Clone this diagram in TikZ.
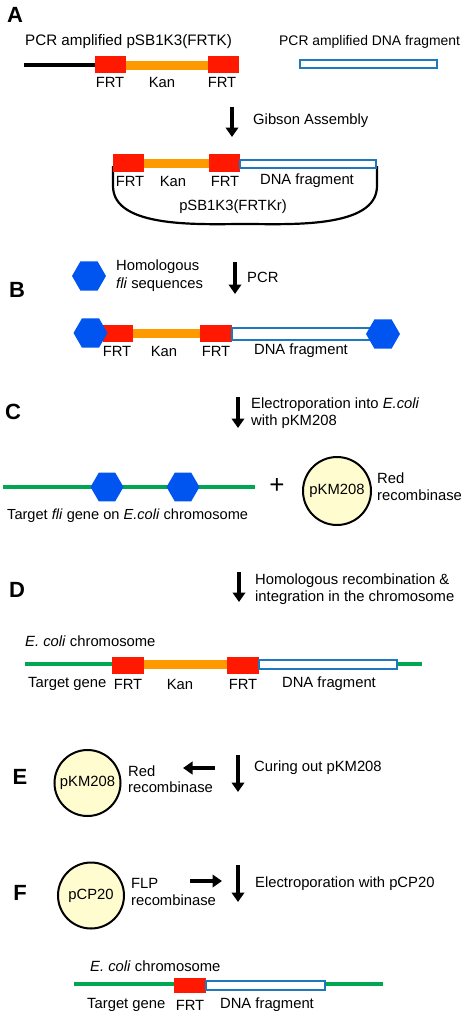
\documentclass[tikz,border=0pt]{standalone}
\usepackage{fontspec}
\setmainfont{Liberation Sans}
\usetikzlibrary{arrows.meta,shapes.geometric}
\definecolor{frtred}{RGB}{255,25,0}
\definecolor{kanorange}{RGB}{255,153,0}
\definecolor{dnablue}{RGB}{30,120,190}
\definecolor{hexblue}{RGB}{0,85,240}
\definecolor{chromgreen}{RGB}{0,166,81}
\definecolor{plasfill}{RGB}{255,253,208}
\tikzset{
  lbl/.style={font=\fontsize{14.8}{17}\selectfont, inner sep=0pt},
  panel/.style={font=\fontsize{22}{24}\selectfont\bfseries, inner sep=0pt},
  frtbox/.style={fill=frtred},
  kanbar/.style={fill=kanorange},
  dnabox/.style={draw=dnablue, line width=2pt, fill=white},
  chrom/.style={draw=chromgreen, line width=3.5pt},
  hexa/.style={regular polygon, regular polygon sides=6, fill=hexblue, draw=none, minimum size=34pt, inner sep=0pt},
  plasmid/.style={circle, draw=black, line width=2pt, fill=plasfill, minimum size=66pt, inner sep=0pt, font=\fontsize{14.8}{17}\selectfont},
  bigarrow/.style={line width=4.6pt, -{Triangle[width=12.5pt,length=9.5pt]}},
}
\begin{document}
\begin{tikzpicture}[x=1pt,y=-1pt]
\useasboundingbox (0,0) rectangle (474,1018);
% ---------- A ----------
\node[panel] (lA) at (15,15) {A};
\node[lbl, anchor=west, font=\fontsize{15.2}{17}\selectfont] (tA1) at (25,42) {PCR amplified pSB1K3(FRTK)};
\node[lbl, anchor=west, font=\fontsize{13.9}{16}\selectfont] (tA2) at (279,42) {PCR amplified DNA fragment};
\draw[line width=3.2pt] (24,65) -- (95,65);
\fill[kanbar] (126,60.5) rectangle (208,69.5);
\fill[frtbox] (95,56) rectangle (126,73);
\fill[frtbox] (208,56) rectangle (239,73);
\draw[dnabox] (300,60) rectangle (437,68);
\node[lbl] (fA1) at (110,82) {FRT};
\node[lbl] (kA1) at (162,82) {Kan};
\node[lbl] (fA2) at (222,82) {FRT};
\draw[bigarrow] (232,107) -- (232,137);
\node[lbl, anchor=west] (gib) at (253,121) {Gibson Assembly};
% assembled plasmid
\draw[line width=2.2pt] (113,166) -- (113,186) to[out=-90,in=180,looseness=0.8] (245,224) to[out=0,in=-90,looseness=0.8] (377,186) -- (377,166);
\fill[kanbar] (144,158.5) rectangle (209,167.5);
\fill[frtbox] (113,154) rectangle (144,172);
\fill[frtbox] (209,154) rectangle (240,172);
\draw[dnabox] (240,160) rectangle (376,168);
\node[lbl] (fA3) at (130,181) {FRT};
\node[lbl] (kA2) at (173,181) {Kan};
\node[lbl] (fA4) at (225,181) {FRT};
\node[lbl] (dA1) at (307,181) {DNA fragment};
\node[lbl] (pA) at (233,207) {pSB1K3(FRTKr)};
% ---------- B ----------
\node[panel] (lB) at (17,290) {B};
\node[hexa] (hB0) at (89,276) {};
\node[lbl, anchor=west] (hom1) at (116,267) {Homologous};
\node[lbl, anchor=west] (hom2) at (116,285) {\textit{fli} sequences};
\draw[bigarrow] (235,262) -- (235,294);
\node[lbl, anchor=west] (pcr) at (247,277) {PCR};
\fill[frtbox] (103,325) rectangle (133,342);
\fill[kanbar] (133,329) rectangle (200,338);
\fill[frtbox] (200,325) rectangle (232,342);
\draw[dnabox] (232,327.5) rectangle (375,340);
\node[hexa] (hB1) at (90.5,333) {};
\node[hexa] (hB2) at (383,334) {};
\node[lbl] (fB1) at (117,351) {FRT};
\node[lbl] (kB1) at (164,351) {Kan};
\node[lbl] (fB2) at (216,351) {FRT};
\node[lbl] (dB1) at (301,351) {DNA fragment};
% ---------- C ----------
\node[panel] (lC) at (13,412) {C};
\draw[bigarrow] (238,397) -- (238,428);
\node[lbl, anchor=west] (el1) at (251,405) {Electroporation into \textit{E.coli}};
\node[lbl, anchor=west] (el2) at (251,422) {with pKM208};
\draw[chrom] (3,487) -- (255,487);
\node[hexa, minimum size=33pt] (hC1) at (107,487) {};
\node[hexa, minimum size=33pt] (hC2) at (183,487) {};
\node[inner sep=0pt, font=\fontsize{26}{28}\selectfont] (plus) at (277,486) {+};
\node[plasmid, minimum size=68pt] (pkm1) at (337,491) {pKM208};
\node[lbl, anchor=west] (red1) at (377,478) {Red};
\node[lbl, anchor=west] (rec1) at (377,495) {recombinase};
\node[lbl, anchor=west, font=\fontsize{14.6}{16}\selectfont] (tgt) at (7,516) {Target \textit{fli} gene on \textit{E.coli} chromosome};
% ---------- D ----------
\node[panel] (lD) at (17,590) {D};
\draw[bigarrow] (239,572) -- (239,602);
\node[lbl, anchor=west] (hr1) at (255,581) {Homologous recombination \&};
\node[lbl, anchor=west] (hr2) at (255,598) {integration in the chromosome};
\node[lbl, anchor=west] (ec1) at (25,641) {\textit{E. coli} chromosome};
\draw[chrom] (25,664) -- (422,664);
\fill[kanbar] (144,659.5) rectangle (227,669);
\fill[frtbox] (112,657) rectangle (144,674);
\fill[frtbox] (227,657) rectangle (259,674);
\draw[dnabox] (259,660) rectangle (397,669);
\node[lbl, anchor=west] (tgD) at (28,684) {Target gene};
\node[lbl] (fD1) at (128,684) {FRT};
\node[lbl] (kD1) at (180,684) {Kan};
\node[lbl] (fD2) at (243,684) {FRT};
\node[lbl] (dD1) at (329,684) {DNA fragment};
% ---------- E ----------
\node[panel] (lE) at (20,777) {E};
\node[plasmid] (pkm2) at (87.5,783) {pKM208};
\node[lbl, anchor=west] (red2) at (128,771) {Red};
\node[lbl, anchor=west] (rec2) at (128,787) {recombinase};
\coordinate (eL0) at (215,768);
\coordinate (eL1) at (183,768);
\draw[bigarrow] (eL0) -- (eL1);
\draw[bigarrow] (238,755) -- (238,792);
\node[lbl, anchor=west] (cur) at (254,768) {Curing out pKM208};
% ---------- F ----------
\node[panel] (lF) at (20,893) {F};
\node[plasmid] (pcp) at (91,895.5) {pCP20};
\node[lbl, anchor=west] (flp) at (131,883) {FLP};
\node[lbl, anchor=west] (rec3) at (131,900) {recombinase};
\coordinate (fR0) at (190,881);
\coordinate (fR1) at (222,881);
\draw[bigarrow] (fR0) -- (fR1);
\draw[bigarrow] (238,865) -- (238,902);
\node[lbl, anchor=west] (elF) at (255,884) {Electroporation with pCP20};
\node[lbl, anchor=west] (ec2) at (90,966) {\textit{E. coli} chromosome};
\draw[chrom] (74,984) -- (383,984);
\fill[frtbox] (174,978) rectangle (206,993);
\draw[dnabox] (206,981) rectangle (325,990);
\node[lbl, anchor=west] (tgF) at (87,1005) {Target gene};
\node[lbl] (fF1) at (190,1005) {FRT};
\node[lbl] (dF1) at (267,1005) {DNA fragment};
\end{tikzpicture}
\end{document}
